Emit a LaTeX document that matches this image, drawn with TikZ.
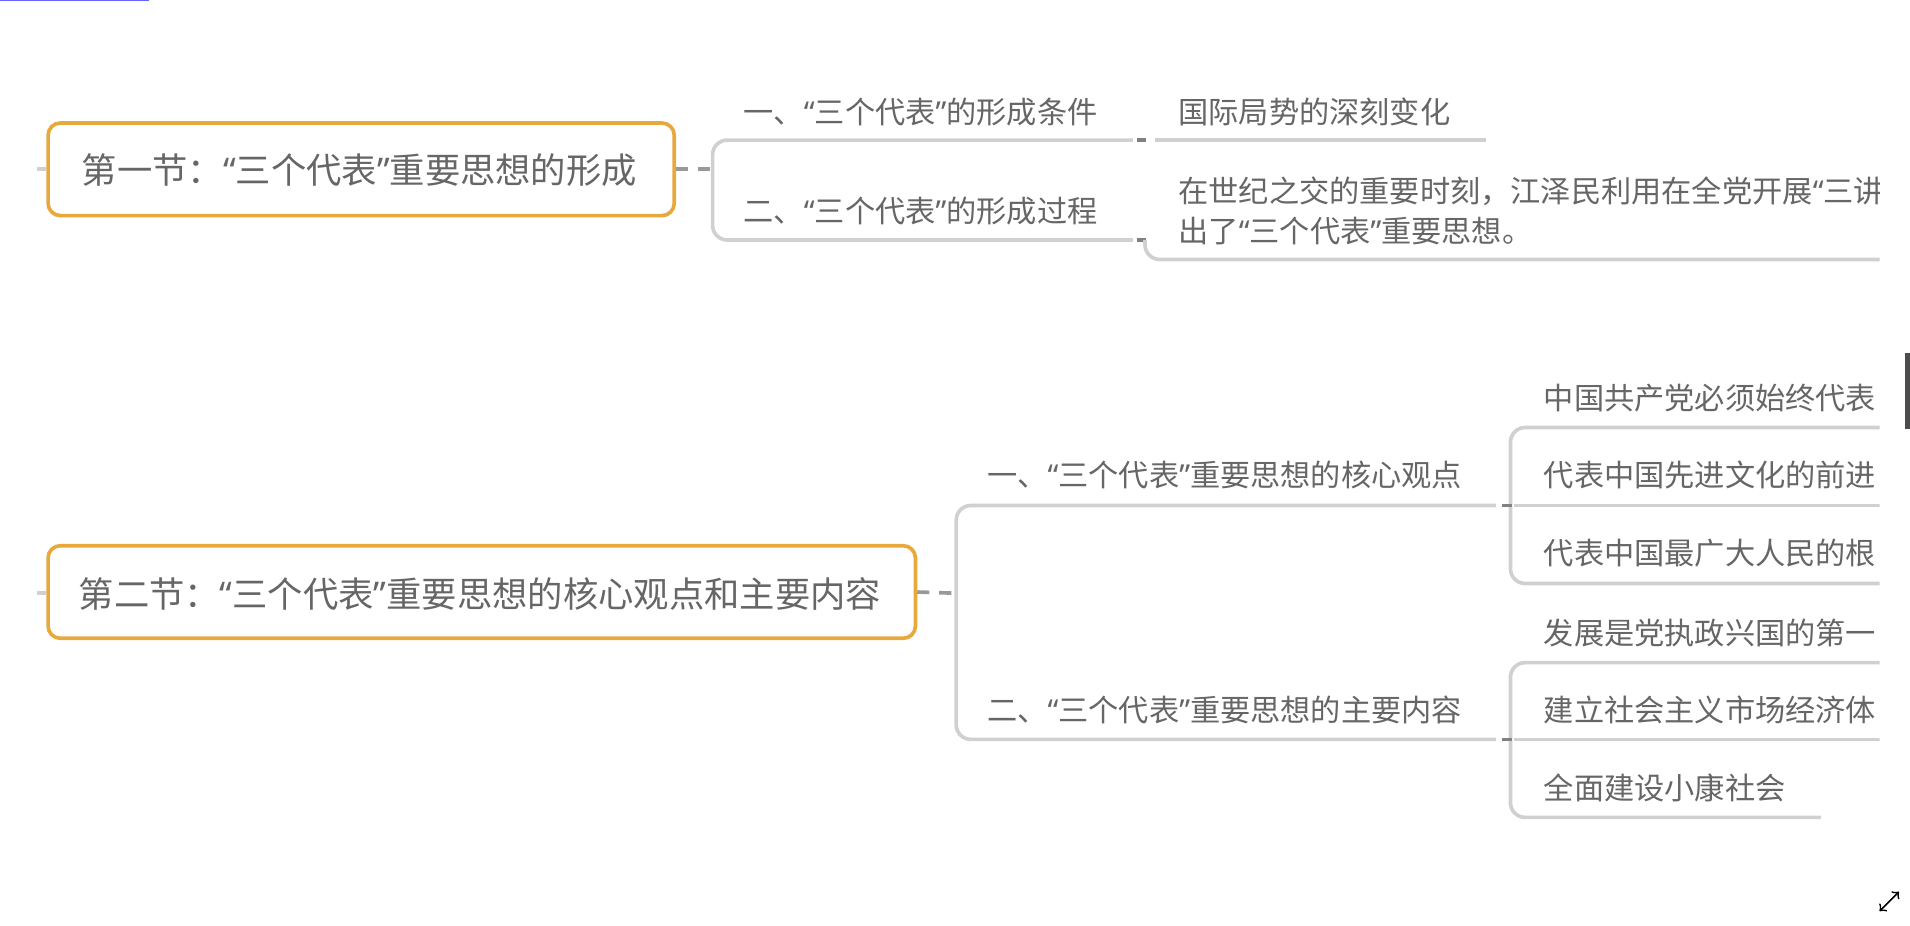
\documentclass[tikz,border=0pt]{standalone}
\usepackage{fontspec}
\newfontfamily\cjk{Noto Sans CJK SC}
\newfontfamily\latq{Noto Sans}
\newcommand{\qt}[1]{{\latq “}#1{\latq ”}}
\definecolor{txt}{HTML}{666666}
\definecolor{ln}{HTML}{D0D0D0}
\definecolor{org}{HTML}{E8A93C}
\begin{document}
\begin{tikzpicture}[x=0.5pt,y=-0.5pt,
  main/.style={draw=org,line width=1.5pt,rounded corners=5pt,fill=white,text=txt,anchor=west,inner sep=0},
  mtxt/.style={font=\cjk\fontsize{14.5}{16}\selectfont,text=txt},
  lab/.style={font=\cjk\fontsize{12.4}{16.5}\selectfont,text=txt,anchor=west,inner sep=0},
  br/.style={draw=ln,line width=1.5pt,rounded corners=6pt},
  dsh/.style={draw=gray!80,line width=1.5pt,dash pattern=on 5pt off 4pt},
  mk/.style={draw=gray,line width=1.5pt}]
\useasboundingbox (0,0) rectangle (1568,760);
\fill[white] (0,0) rectangle (1568,760);
\draw[blue!60,line width=1pt] (0,0) -- (122,0);
% section 1
\draw[ln,line width=1.5pt] (30,139) -- (38,139);
\node[main,minimum width=257pt,minimum height=38pt] (n1) at (38,139) {};
\node[mtxt] (t1) at (295,140) {第一节：\qt{三个代表}重要思想的形成};
\coordinate (b1) at (585,139);
\draw[dsh] (n1.east) -- (b1);
\draw[br] (930,115) -- (585,115) -- (585,197) -- (930,197);
\node[lab] (a1) at (610,92) {一、\qt{三个代表}的形成条件};
\node[lab] (a2) at (610,173) {二、\qt{三个代表}的形成过程};
\draw[mk] (933,115) -- (941,115);
\draw[mk] (933,197) -- (941,197);
\draw[br] (948,115) -- (1220,115);
\node[lab] (c1) at (967,92) {国际局势的深刻变化};
\begin{scope}
\clip (900,0) rectangle (1543,760);
\draw[br] (940,197) -- (940,213) -- (1560,213);
\node[lab] (c2) at (967,157) {在世纪之交的重要时刻，江泽民利用在全党开展{\latq “}三讲};
\node[lab] (c3) at (967,190) {出了\qt{三个代表}重要思想。};
% section 2 children
\draw[br] (1560,351) -- (1240,351) -- (1240,479) -- (1560,479);
\draw[br] (1243,415) -- (1560,415);
\draw[br] (1560,544) -- (1240,544) -- (1240,671) -- (1495,671);
\draw[br] (1243,607) -- (1560,607);
\node[lab] (d1) at (1267,327) {中国共产党必须始终代表};
\node[lab] (d2) at (1267,390) {代表中国先进文化的前进};
\node[lab] (d3) at (1267,454) {代表中国最广大人民的根};
\node[lab] (e1) at (1267,520) {发展是党执政兴国的第一};
\node[lab] (e2) at (1267,583) {建立社会主义市场经济体};
\node[lab] (e3) at (1267,647) {全面建设小康社会};
\end{scope}
% section 2
\draw[ln,line width=1.5pt] (30,487) -- (38,487);
\node[main,minimum width=356pt,minimum height=38pt] (n2) at (38,486) {};
\node[mtxt] (t2) at (394,488) {第二节：\qt{三个代表}重要思想的核心观点和主要内容};
\coordinate (b2) at (785,487);
\draw[dsh] (n2.east) -- (b2);
\draw[br] (1228,415) -- (785,415) -- (785,607) -- (1228,607);
\node[lab] (f1) at (810,390) {一、\qt{三个代表}重要思想的核心观点};
\node[lab] (f2) at (810,583) {二、\qt{三个代表}重要思想的主要内容};
\draw[mk] (1233,415) -- (1241,415);
\draw[mk] (1233,607) -- (1241,607);
\fill[black!70] (1564,290) rectangle (1568,352);
\draw[black,line width=0.7pt,<->] (1543,748) -- (1559,732);
\end{tikzpicture}
\end{document}
